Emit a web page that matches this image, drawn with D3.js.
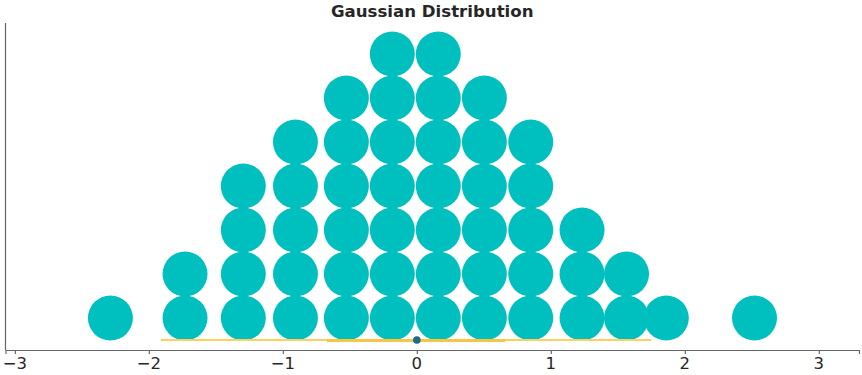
<!DOCTYPE html>
<html>
<head>
<meta charset="utf-8">
<script src="https://cdn.jsdelivr.net/npm/d3@7"></script>
<style>
  body { margin: 0; background: #fff; }
</style>
</head>
<body>
<svg id="viz"></svg>
<script>
// dot plot of 50 gaussian samples, stacked by bin
var width = 862;
var height = 375;

// bin centres (data units) and how many dots stack in each
var binCenters = [-2.287, -1.73, -1.295, -0.906, -0.526, -0.183, 0.160, 0.504, 0.85, 1.233, 1.565, 1.862, 2.52];
var binCounts  = [1, 2, 4, 5, 6, 7, 7, 6, 5, 3, 2, 1, 1];

// point estimate + credible intervals drawn under the dots
var pointEstimate = 0;
var hdiThin  = [-1.91, 1.75];
var hdiThick = [-0.67, 0.66];

var xTicks = [-3, -2, -1, 0, 1, 2, 3];

var margin = {left: 5.5, right: 3, top: 23, bottom: 25};

var x = d3.scaleLinear()
  .domain([-3.07, 3.30])
  .range([margin.left, width - margin.right]);

var y = d3.scaleLinear()
  .domain([-0.727, 6.705])
  .range([height - margin.bottom, margin.top]);

var svg = d3.select("#viz").attr("width", width).attr("height", height);

var dots = [];
binCenters.forEach(function (c, i) {
  for (var k = 0; k < binCounts[i]; k++) dots.push({x: c, level: k});
});

var r = (y(0) - y(1)) / 2 + 0.5;

svg.append("g").selectAll("circle")
  .data(dots)
  .join("circle")
  .attr("cx", d => x(d.x))
  .attr("cy", d => y(d.level))
  .attr("r", r)
  .attr("fill", "#00c0bf");

// intervals
var yLine = height - margin.bottom - 10;
svg.append("line")
  .attr("x1", x(hdiThin[0])).attr("x2", x(hdiThin[1]))
  .attr("y1", yLine).attr("y2", yLine)
  .attr("stroke", "#fcd161").attr("stroke-width", 2);
svg.append("line")
  .attr("x1", x(hdiThick[0])).attr("x2", x(hdiThick[1]))
  .attr("y1", yLine + 0.5).attr("y2", yLine + 0.5)
  .attr("stroke", "#f9c544").attr("stroke-width", 3);
svg.append("circle")
  .attr("cx", x(pointEstimate)).attr("cy", yLine)
  .attr("r", 3.8)
  .attr("fill", "#1d6a8a");

// axes (labels drawn separately)
var xAxis = svg.append("g")
  .attr("transform", `translate(0,${height - margin.bottom})`)
  .call(d3.axisBottom(x).tickValues(xTicks).tickSize(4).tickFormat(""));
xAxis.select(".domain").attr("stroke", "#666").attr("stroke-width", 1.2);
xAxis.selectAll(".tick line").attr("stroke", "#666").attr("stroke-width", 1.2);

svg.append("g").selectAll("text")
  .data(xTicks)
  .join("text")
  .attr("x", d => x(d))
  .attr("y", height - margin.bottom + 19)
  .attr("text-anchor", "middle")
  .attr("fill", "#262626")
  .style("font-family", "'DejaVu Sans', sans-serif")
  .style("font-size", "16.5px")
  .text(d => d < 0 ? "\u2212" + Math.abs(d) : d);

svg.append("line")
  .attr("x1", margin.left).attr("x2", margin.left)
  .attr("y1", margin.top).attr("y2", height - margin.bottom)
  .attr("stroke", "#666").attr("stroke-width", 1.2);

svg.append("text")
  .attr("x", (margin.left + width - margin.right) / 2)
  .attr("y", 17)
  .attr("text-anchor", "middle")
  .attr("fill", "#262626")
  .style("font-family", "'DejaVu Sans', sans-serif")
  .style("font-size", "16.6px")
  .style("font-weight", "bold")
  .text("Gaussian Distribution");
</script>
</body>
</html>
